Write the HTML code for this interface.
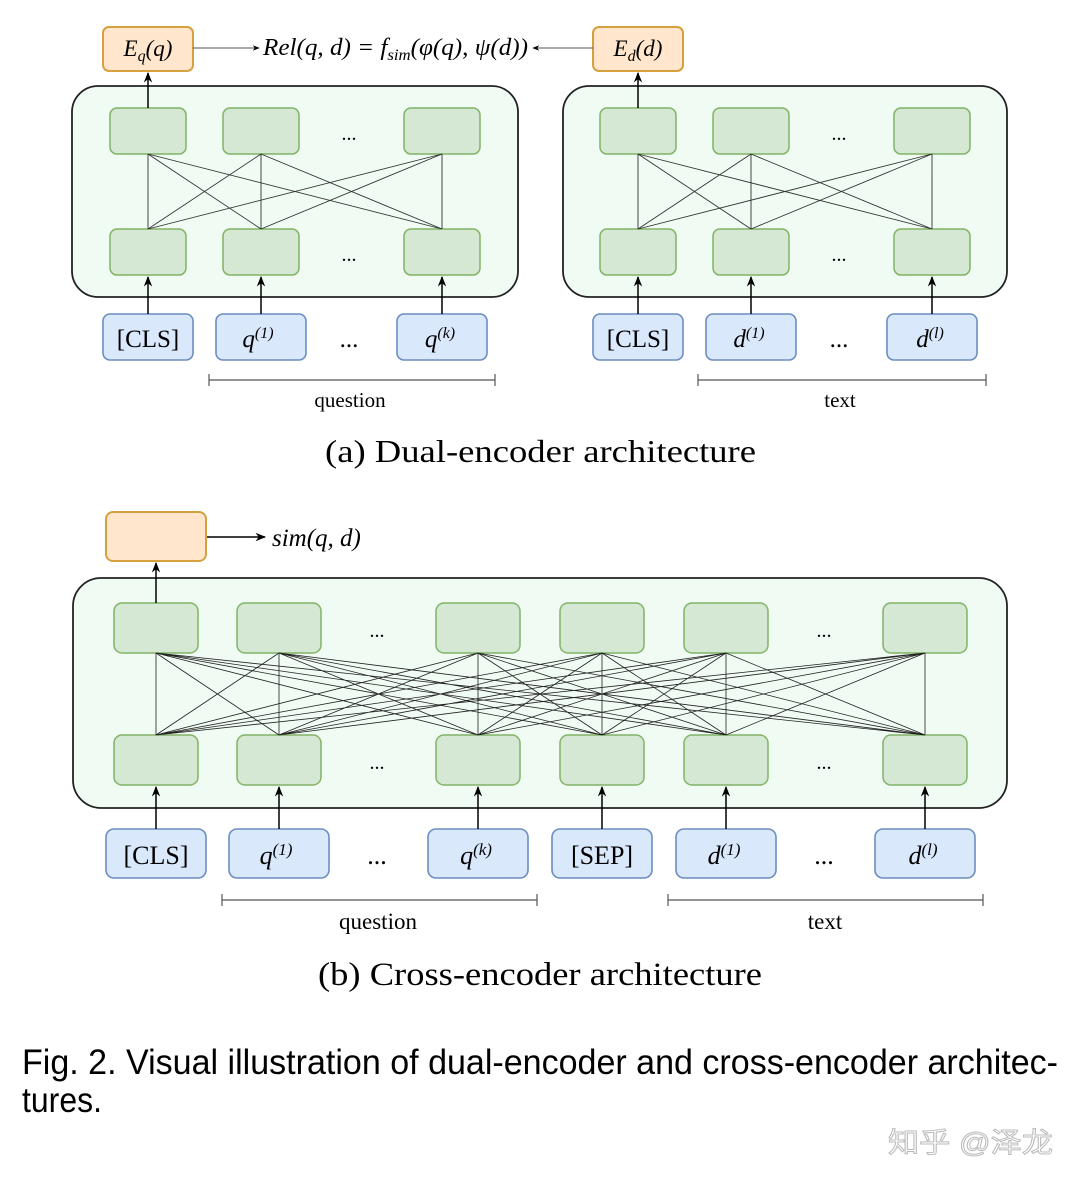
<!DOCTYPE html>
<html><head><meta charset="utf-8"><style>
html,body{margin:0;padding:0;background:#fff;}
svg{display:block;}
.s{font-family:"Liberation Serif",serif;}
.i{font-family:"Liberation Serif",serif;font-style:italic;}
</style></head><body>
<svg width="1080" height="1186" viewBox="0 0 1080 1186" xmlns="http://www.w3.org/2000/svg">
<defs>
<marker id="a" viewBox="0 0 10 10" refX="9" refY="5" markerWidth="7" markerHeight="7" orient="auto"><path d="M0,1 L10,5 L0,9 L3,5 z" fill="#000"/></marker>
</defs>
<!-- ===== (a) ===== -->
<rect x="72" y="86" width="446" height="211" rx="26" fill="#effbf3" stroke="#222" stroke-width="1.8"/>
<rect x="563" y="86" width="444" height="211" rx="26" fill="#effbf3" stroke="#222" stroke-width="1.8"/>
<g fill="#d5e8d4" stroke="#82b366" stroke-width="1.5">
<rect x="110" y="108" width="76" height="46" rx="7"/><rect x="223" y="108" width="76" height="46" rx="7"/><rect x="404" y="108" width="76" height="46" rx="7"/>
<rect x="110" y="229" width="76" height="46" rx="7"/><rect x="223" y="229" width="76" height="46" rx="7"/><rect x="404" y="229" width="76" height="46" rx="7"/>
<rect x="600" y="108" width="76" height="46" rx="7"/><rect x="713" y="108" width="76" height="46" rx="7"/><rect x="894" y="108" width="76" height="46" rx="7"/>
<rect x="600" y="229" width="76" height="46" rx="7"/><rect x="713" y="229" width="76" height="46" rx="7"/><rect x="894" y="229" width="76" height="46" rx="7"/>
</g>
<path fill="none" stroke="#333" stroke-width="0.9" d="
M148,154L148,229 M148,154L261,229 M148,154L442,229 M261,154L148,229 M261,154L261,229 M261,154L442,229 M442,154L148,229 M442,154L261,229 M442,154L442,229
M638,154L638,229 M638,154L751,229 M638,154L932,229 M751,154L638,229 M751,154L751,229 M751,154L932,229 M932,154L638,229 M932,154L751,229 M932,154L932,229"/>
<g class="s" font-size="20" text-anchor="middle"><text x="349" y="140">...</text><text x="349" y="261">...</text><text x="839" y="140">...</text><text x="839" y="261">...</text></g>
<!-- inputs a -->
<g fill="#dae8fc" stroke="#6c8ebf" stroke-width="1.6">
<rect x="103" y="314" width="90" height="46" rx="7"/><rect x="216" y="314" width="90" height="46" rx="7"/><rect x="397" y="314" width="90" height="46" rx="7"/>
<rect x="593" y="314" width="90" height="46" rx="7"/><rect x="706" y="314" width="90" height="46" rx="7"/><rect x="887" y="314" width="90" height="46" rx="7"/>
</g>
<g stroke="#000" stroke-width="1.5" marker-end="url(#a)">
<line x1="148" y1="314" x2="148" y2="277"/><line x1="261" y1="314" x2="261" y2="277"/><line x1="442" y1="314" x2="442" y2="277"/>
<line x1="638" y1="314" x2="638" y2="277"/><line x1="751" y1="314" x2="751" y2="277"/><line x1="932" y1="314" x2="932" y2="277"/>
<line x1="148" y1="108" x2="148" y2="73"/><line x1="638" y1="108" x2="638" y2="73"/>
</g>
<g font-size="25" text-anchor="middle">
<text class="s" x="148" y="347">[CLS]</text><text class="i" x="258" y="347">q<tspan font-size="16" dy="-9">(1)</tspan></text>
<text class="s" x="349" y="347">...</text>
<text class="i" x="440" y="347">q<tspan font-size="16" dy="-9">(k)</tspan></text>
<text class="s" x="638" y="347">[CLS]</text><text class="i" x="749" y="347">d<tspan font-size="16" dy="-9">(1)</tspan></text>
<text class="s" x="839" y="347">...</text>
<text class="i" x="930" y="347">d<tspan font-size="16" dy="-9">(l)</tspan></text>
</g>
<path stroke="#555" stroke-width="1.2" fill="none" d="M209,380H495 M209,374V386 M495,374V386 M698,380H986 M698,374V386 M986,374V386"/>
<g class="s" font-size="21" text-anchor="middle"><text x="350" y="407">question</text><text x="840" y="407">text</text></g>
<!-- top a -->
<rect x="103" y="27" width="90" height="44" rx="6" fill="#ffe6cc" stroke="#d6a03e" stroke-width="2"/>
<rect x="593" y="27" width="90" height="44" rx="6" fill="#ffe6cc" stroke="#d6a03e" stroke-width="2"/>
<text class="i" x="148" y="56" font-size="23" text-anchor="middle">E<tspan font-size="16" dy="5">q</tspan><tspan dy="-5">(q)</tspan></text>
<text class="i" x="638" y="56" font-size="23" text-anchor="middle">E<tspan font-size="16" dy="5">d</tspan><tspan dy="-5">(d)</tspan></text>
<g stroke="#555" stroke-width="1" marker-end="url(#a)"><line x1="193" y1="48" x2="259" y2="48"/><line x1="593" y1="48" x2="533" y2="48"/></g>
<text class="i" x="263" y="55" font-size="24" textLength="265" lengthAdjust="spacingAndGlyphs">Rel(q, d) = f<tspan font-size="16" dy="5">sim</tspan><tspan dy="-5">(φ(q), ψ(d))</tspan></text>
<text class="s" x="325" y="462" font-size="32" textLength="431" lengthAdjust="spacingAndGlyphs">(a)  Dual-encoder architecture</text>
<!-- ===== (b) ===== -->
<rect x="73" y="578" width="934" height="230" rx="28" fill="#effbf3" stroke="#222" stroke-width="1.8"/>
<g fill="#d5e8d4" stroke="#82b366" stroke-width="1.5">
<rect x="114" y="603" width="84" height="50" rx="8"/><rect x="237" y="603" width="84" height="50" rx="8"/><rect x="436" y="603" width="84" height="50" rx="8"/>
<rect x="560" y="603" width="84" height="50" rx="8"/><rect x="684" y="603" width="84" height="50" rx="8"/><rect x="883" y="603" width="84" height="50" rx="8"/>
<rect x="114" y="735" width="84" height="50" rx="8"/><rect x="237" y="735" width="84" height="50" rx="8"/><rect x="436" y="735" width="84" height="50" rx="8"/>
<rect x="560" y="735" width="84" height="50" rx="8"/><rect x="684" y="735" width="84" height="50" rx="8"/><rect x="883" y="735" width="84" height="50" rx="8"/>
</g>
<path fill="none" stroke="#222" stroke-width="0.8" d="
M156,653L156,735 M156,653L279,735 M156,653L478,735 M156,653L602,735 M156,653L726,735 M156,653L925,735
M279,653L156,735 M279,653L279,735 M279,653L478,735 M279,653L602,735 M279,653L726,735 M279,653L925,735
M478,653L156,735 M478,653L279,735 M478,653L478,735 M478,653L602,735 M478,653L726,735 M478,653L925,735
M602,653L156,735 M602,653L279,735 M602,653L478,735 M602,653L602,735 M602,653L726,735 M602,653L925,735
M726,653L156,735 M726,653L279,735 M726,653L478,735 M726,653L602,735 M726,653L726,735 M726,653L925,735
M925,653L156,735 M925,653L279,735 M925,653L478,735 M925,653L602,735 M925,653L726,735 M925,653L925,735"/>
<g class="s" font-size="20" text-anchor="middle"><text x="377" y="637">...</text><text x="377" y="769">...</text><text x="824" y="637">...</text><text x="824" y="769">...</text></g>
<g fill="#dae8fc" stroke="#6c8ebf" stroke-width="1.6">
<rect x="106" y="829" width="100" height="49" rx="8"/><rect x="229" y="829" width="100" height="49" rx="8"/><rect x="428" y="829" width="100" height="49" rx="8"/>
<rect x="552" y="829" width="100" height="49" rx="8"/><rect x="676" y="829" width="100" height="49" rx="8"/><rect x="875" y="829" width="100" height="49" rx="8"/>
</g>
<g stroke="#000" stroke-width="1.5" marker-end="url(#a)">
<line x1="156" y1="829" x2="156" y2="787"/><line x1="279" y1="829" x2="279" y2="787"/><line x1="478" y1="829" x2="478" y2="787"/>
<line x1="602" y1="829" x2="602" y2="787"/><line x1="726" y1="829" x2="726" y2="787"/><line x1="925" y1="829" x2="925" y2="787"/>
<line x1="156" y1="603" x2="156" y2="563"/><line x1="206" y1="537" x2="265" y2="537"/>
</g>
<g font-size="26" text-anchor="middle">
<text class="s" x="156" y="864">[CLS]</text><text class="i" x="276" y="864">q<tspan font-size="17" dy="-9">(1)</tspan></text>
<text class="s" x="377" y="864">...</text>
<text class="i" x="476" y="864">q<tspan font-size="17" dy="-9">(k)</tspan></text>
<text class="s" x="602" y="864">[SEP]</text>
<text class="i" x="724" y="864">d<tspan font-size="17" dy="-9">(1)</tspan></text>
<text class="s" x="824" y="864">...</text>
<text class="i" x="923" y="864">d<tspan font-size="17" dy="-9">(l)</tspan></text>
</g>
<path stroke="#555" stroke-width="1.2" fill="none" d="M222,900H537 M222,894V906 M537,894V906 M668,900H983 M668,894V906 M983,894V906"/>
<g class="s" font-size="23" text-anchor="middle"><text x="378" y="929">question</text><text x="825" y="929">text</text></g>
<rect x="106" y="512" width="100" height="49" rx="7" fill="#ffe6cc" stroke="#d6a03e" stroke-width="2"/>
<text class="i" x="272" y="546" font-size="25">sim(q, d)</text>
<text class="s" x="318" y="985" font-size="33" textLength="444" lengthAdjust="spacingAndGlyphs">(b)  Cross-encoder architecture</text>
<!-- caption -->
<g font-family="Liberation Sans, sans-serif" font-size="35" fill="#000">
<text x="22" y="1074" textLength="1036" lengthAdjust="spacingAndGlyphs">Fig. 2. Visual illustration of dual-encoder and cross-encoder architec-</text>
<text x="22" y="1112" textLength="80" lengthAdjust="spacingAndGlyphs">tures.</text>
</g>
<text x="888" y="1152" font-family="Liberation Sans, 'Noto Sans CJK SC', sans-serif" font-size="28" fill="#fff" stroke="#bbb" stroke-width="1" textLength="165" lengthAdjust="spacingAndGlyphs">知乎 @泽龙</text>
</svg>
</body></html>
